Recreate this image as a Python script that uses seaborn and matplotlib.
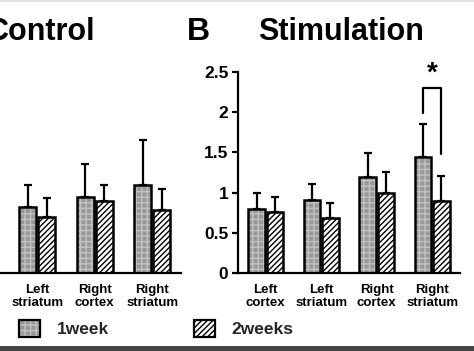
import numpy as np
import pandas as pd
import seaborn as sns
import matplotlib.pyplot as plt
from matplotlib.patches import Patch, Rectangle

# regions (the control panel is cropped, its first group lies off the canvas)
regions = ['Left\ncortex', 'Left\nstriatum', 'Right\ncortex', 'Right\nstriatum']
weeks = ['1week', '2weeks']

ctrl_regions = ['Left\nstriatum', 'Right\ncortex', 'Right\nstriatum']
ctrl_1w = [0.82, 0.95, 1.09]
ctrl_1w_sd = [0.27, 0.41, 0.56]
ctrl_2w = [0.70, 0.90, 0.78]
ctrl_2w_sd = [0.23, 0.20, 0.26]

stim_1w = [0.80, 0.91, 1.20, 1.44]
stim_1w_sd = [0.20, 0.20, 0.29, 0.41]
stim_2w = [0.76, 0.68, 1.00, 0.90]
stim_2w_sd = [0.19, 0.19, 0.26, 0.31]

# significance bracket (right striatum, 1week vs 2weeks)
sig_top = 2.30
sig_left_end = 1.99
sig_right_end = 1.48

GREY = '#999999'
GRID = '#c2c2c2'

sns.set_theme(style='white')
plt.rcParams['font.family'] = ['Liberation Sans', 'DejaVu Sans']
plt.rcParams['font.weight'] = 'bold'
plt.rcParams['hatch.linewidth'] = 1.0

fig = plt.figure(figsize=(4.74, 3.51), dpi=100)


def make_df(regs, v1, s1, v2, s2):
    return pd.DataFrame({
        'region': list(regs) * 2,
        'week': [weeks[0]] * len(regs) + [weeks[1]] * len(regs),
        'value': list(v1) + list(v2),
        'sd': list(s1) + list(s2),
    })


def draw_panel(ax, df):
    sns.barplot(data=df, x='region', y='value', hue='week', order=regions,
                hue_order=weeks, width=0.66, gap=0.1, errorbar=None,
                legend=False, ax=ax)
    for i, wk in enumerate(weeks):
        sub = df[df.week == wk].set_index('region')
        for p in ax.containers[i]:
            xc = p.get_x() + p.get_width() / 2
            reg = regions[int(round(xc))]
            ax.errorbar(xc, sub.loc[reg, 'value'], yerr=[[0], [sub.loc[reg, 'sd']]],
                        fmt='none', ecolor='black', elinewidth=1.6, capsize=3,
                        capthick=1.6, zorder=1)
            if wk == '1week':
                p.set_facecolor(GREY)
                p.set_edgecolor(GRID)
                p.set_hatch('+++')
            else:
                p.set_facecolor('white')
                p.set_edgecolor('black')
                p.set_hatch('//////')
            p.set_linewidth(0)
            p.set_zorder(2)
            ax.add_patch(Rectangle(p.get_xy(), p.get_width(), p.get_height(),
                                   fill=False, ec='black', lw=1.8, zorder=3))
    ax.set_ylim(0, 2.5)
    ax.set_xlim(-0.5, 3.5)
    ax.set_xlabel('')
    ax.set_ylabel('')
    for s in ['top', 'right']:
        ax.spines[s].set_visible(False)
    for s in ['left', 'bottom']:
        ax.spines[s].set_color('black')
        ax.spines[s].set_linewidth(1.6)
    ax.tick_params(axis='x', length=0, pad=8, labelsize=9.5)
    ax.tick_params(axis='y', left=True, length=4, width=1.6, color='black',
                   labelsize=12.5, pad=3)
    ax.set_yticks([0, 0.5, 1, 1.5, 2, 2.5])
    ax.set_yticklabels(['0', '0.5', '1', '1.5', '2', '2.5'])
    for t in ax.get_xticklabels() + ax.get_yticklabels():
        t.set_fontweight('bold')
        t.set_color('black')
        t.set_linespacing(1.05)
    return ax


ax1 = fig.add_axes([-0.1034, 0.2222, 0.4852, 0.5726])
draw_panel(ax1, make_df(ctrl_regions, ctrl_1w, ctrl_1w_sd, ctrl_2w, ctrl_2w_sd))
# the cropped part of the control panel: its y axis and first group are off the canvas
ax1.tick_params(axis='y', labelleft=False)
ax1.get_xticklabels()[0].set_visible(False)

ax2 = fig.add_axes([0.5021, 0.2222, 0.4684, 0.5726])
draw_panel(ax2, make_df(regions, stim_1w, stim_1w_sd, stim_2w, stim_2w_sd))

# bracket with asterisk
p1 = ax2.containers[0][3]
p2 = ax2.containers[1][3]
x1 = p1.get_x() + p1.get_width() / 2
x2 = p2.get_x() + p2.get_width() / 2
ax2.plot([x1, x1, x2, x2], [sig_left_end, sig_top, sig_top, sig_right_end],
         color='black', lw=1.6, clip_on=False)
ax2.text((x1 + x2) / 2, sig_top + 0.02, '*', ha='center', va='bottom',
         fontsize=20, fontweight='bold', color='black', clip_on=False)

# panel titles
fig.text(95 / 474, 0.886, 'Control', ha='right', va='baseline',
         fontsize=22, fontweight='bold', color='black')
fig.text(187 / 474, 0.886, 'B', ha='left', va='baseline',
         fontsize=23, fontweight='bold', color='black')
fig.text(258 / 474, 0.886, 'Stimulation', ha='left', va='baseline',
         fontsize=22, fontweight='bold', color='black')

# legend
outline = dict(fill=False, edgecolor='black', lw=1.6)
handles = [(Patch(facecolor=GREY, edgecolor=GRID, lw=0, hatch='+++'), Patch(**outline)),
           (Patch(facecolor='white', edgecolor='black', lw=0, hatch='//////'), Patch(**outline))]
fig.legend(handles, weeks, loc='center left', bbox_to_anchor=(0.008, 0.064),
           ncol=2, frameon=False, handlelength=1.2, handleheight=1.1,
           handletextpad=0.95, columnspacing=4.9,
           prop={'weight': 'bold', 'size': 12.5})

# scan borders
fig.add_artist(Rectangle((0, 1 - 2 / 351), 1, 2 / 351, transform=fig.transFigure,
                         color='#e2e2e2', lw=0))
fig.add_artist(Rectangle((0, 0), 1, 5 / 351, transform=fig.transFigure,
                         color='#454545', lw=0))

fig.savefig('out.png', dpi=100)
